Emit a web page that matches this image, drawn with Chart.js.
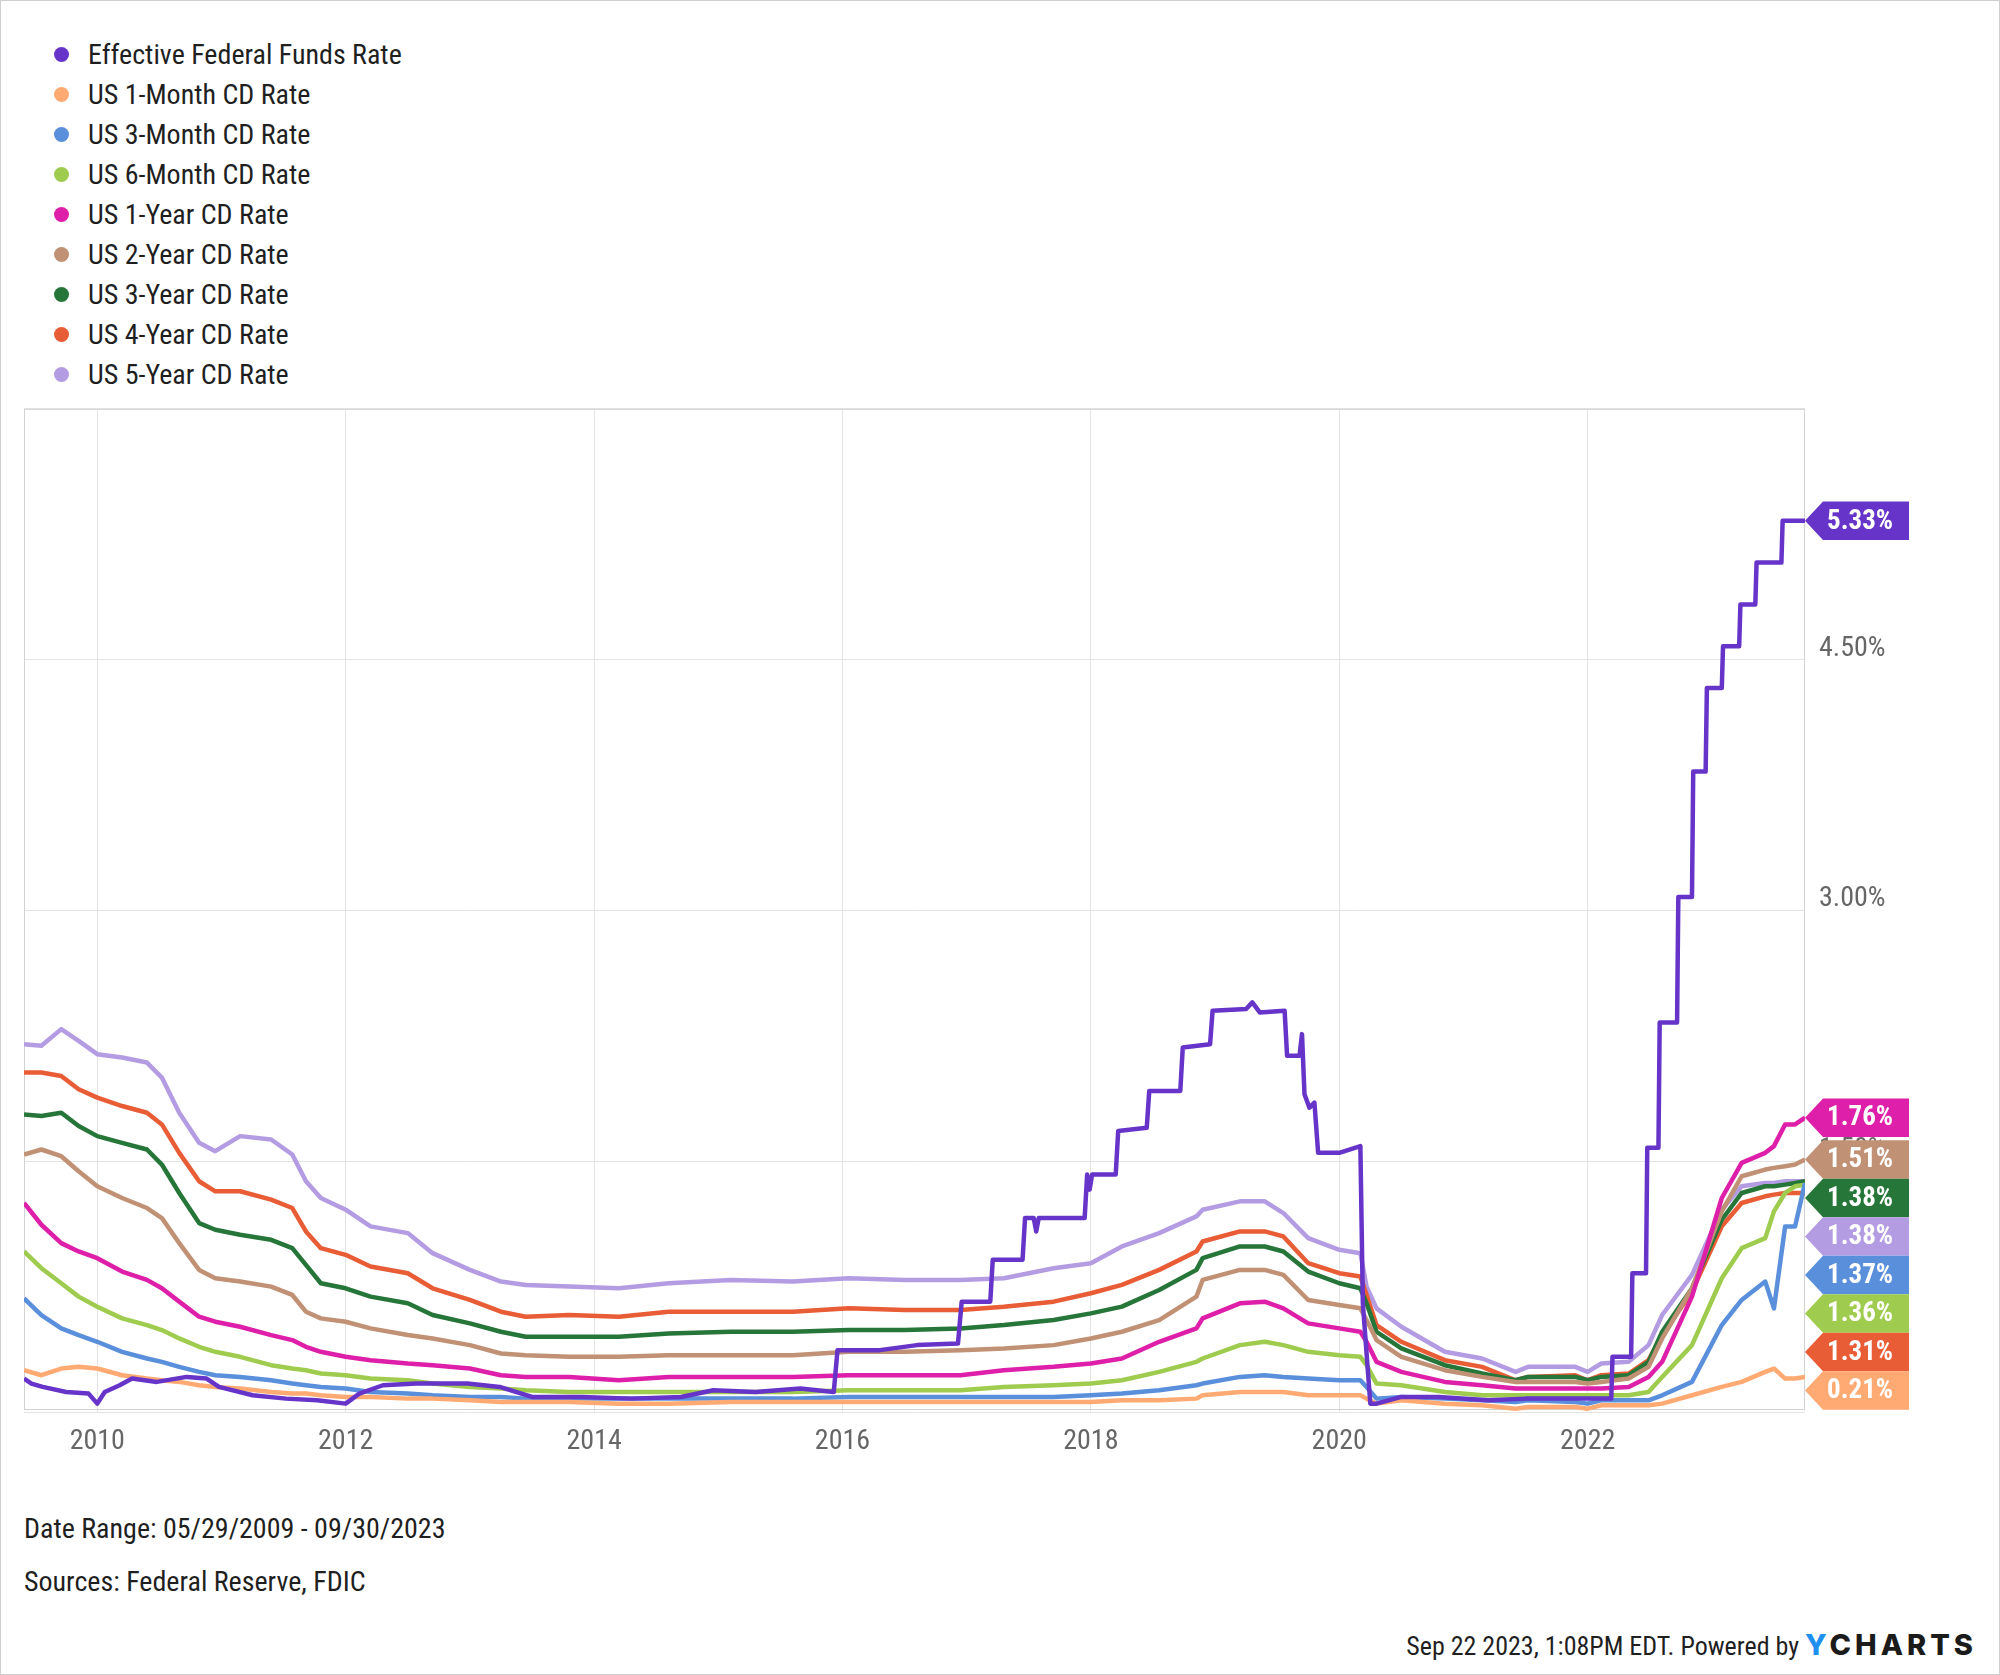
<!DOCTYPE html>
<html>
<head>
<meta charset="utf-8">
<script src="https://cdn.jsdelivr.net/npm/chart.js@4.4.1/dist/chart.umd.min.js"></script>
<style>
  body { margin: 0; background: #fff; }
  #wrap {
    position: relative; width: 2000px; height: 1675px; background: #fff;
    outline: 1px solid #cfcfcf; outline-offset: -1px; overflow: hidden;
    font-family: "Roboto Condensed", "Liberation Sans Narrow", Roboto, sans-serif;
    color: #1f1f1f;
  }
  #legend { position: absolute; left: 0; top: 34px; }
  .item { height: 40px; display: flex; align-items: center; font-size: 28px; }
  .dot { width: 15px; height: 15px; border-radius: 50%; margin-left: 54px; margin-right: 19px; }
  #chart { position: absolute; left: 0; top: 378px; }
  .note { position: absolute; left: 24px; font-size: 28px; line-height: 30px; }
  #stamp { position: absolute; right: 23px; top: 1630px; font-size: 26px; line-height: 30px; white-space: nowrap; }
  #logo { font-family: Inter, Roboto, sans-serif; font-weight: 800; font-size: 29px; letter-spacing: 4px; color: #1b1b1b; }
  #logo span { color: #1e90f0; }
</style>
</head>
<body>
<div id="wrap">
  <div id="legend"></div>
  <canvas id="chart" width="2000" height="1100"></canvas>
  <div class="note" style="top:1514px">Date Range: 05/29/2009 - 09/30/2023</div>
  <div class="note" style="top:1567px">Sources: Federal Reserve, FDIC</div>
  <div id="stamp">Sep 22 2023, 1:08PM EDT. Powered by <span id="logo"><span>Y</span>CHARTS</span></div>
</div>
<script>
const seriesNames = ['Effective Federal Funds Rate', 'US 1-Month CD Rate', 'US 3-Month CD Rate', 'US 6-Month CD Rate',
    'US 1-Year CD Rate', 'US 2-Year CD Rate', 'US 3-Year CD Rate', 'US 4-Year CD Rate', 'US 5-Year CD Rate'];
const seriesColors = ['#6634c9', '#ffaa72', '#5a8fdb', '#9fcb4f', '#de1fa9', '#c09174', '#267539', '#e85c36', '#b49ce3'];

const xMin = 2009.41;
const xMax = 2023.75;
const yearTicks = [2010, 2012, 2014, 2016, 2018, 2020, 2022];
const rateTicks = [0, 1.5, 3, 4.5, 6];

// effective fed funds rate, [decimal year, %]
const effrPoints = [
    [2009.41, 0.20], [2009.47, 0.17], [2009.56, 0.15], [2009.75, 0.12], [2009.93, 0.11], [2010.0, 0.05],
    [2010.06, 0.12], [2010.18, 0.16], [2010.28, 0.20], [2010.48, 0.18], [2010.72, 0.21], [2010.88, 0.20],
    [2010.98, 0.15], [2011.25, 0.10], [2011.52, 0.08], [2011.77, 0.07], [2012.0, 0.05], [2012.11, 0.11],
    [2012.3, 0.16], [2012.57, 0.17], [2012.98, 0.17], [2013.24, 0.15], [2013.5, 0.09], [2013.9, 0.09],
    [2014.3, 0.08], [2014.7, 0.09], [2014.96, 0.13], [2015.3, 0.12], [2015.66, 0.14], [2015.93, 0.12],
    [2015.96, 0.37], [2016.3, 0.37], [2016.6, 0.40], [2016.93, 0.41], [2016.96, 0.66], [2017.19, 0.66],
    [2017.21, 0.91], [2017.45, 0.91], [2017.47, 1.16], [2017.54, 1.16], [2017.56, 1.08], [2017.58, 1.16],
    [2017.95, 1.16], [2017.97, 1.42], [2017.99, 1.33], [2018.01, 1.42], [2018.2, 1.42], [2018.22, 1.68],
    [2018.45, 1.70], [2018.47, 1.92], [2018.72, 1.92], [2018.74, 2.18], [2018.96, 2.20], [2018.98, 2.40],
    [2019.25, 2.41], [2019.3, 2.45], [2019.36, 2.39], [2019.56, 2.40], [2019.58, 2.13], [2019.68, 2.13],
    [2019.7, 2.26], [2019.72, 1.90], [2019.76, 1.82], [2019.8, 1.85], [2019.83, 1.55], [2020.0, 1.55],
    [2020.17, 1.59], [2020.19, 0.65], [2020.25, 0.05], [2020.3, 0.05], [2020.5, 0.09], [2020.8, 0.09],
    [2021.2, 0.07], [2021.5, 0.08], [2021.9, 0.08], [2022.19, 0.08], [2022.2, 0.33], [2022.35, 0.33],
    [2022.36, 0.83], [2022.47, 0.83], [2022.48, 1.58], [2022.57, 1.58], [2022.58, 2.33], [2022.72, 2.33],
    [2022.73, 3.08], [2022.84, 3.08], [2022.85, 3.83], [2022.95, 3.83], [2022.96, 4.33], [2023.08, 4.33],
    [2023.09, 4.58], [2023.22, 4.58], [2023.23, 4.83], [2023.35, 4.83], [2023.36, 5.08], [2023.56, 5.08],
    [2023.57, 5.33], [2023.75, 5.33]
];

// CD rates share one set of dates
const cdDates = [
    2009.41, 2009.55, 2009.71, 2009.85, 2010.0, 2010.2, 2010.4, 2010.52, 2010.66, 2010.82,
    2010.95, 2011.15, 2011.4, 2011.57, 2011.68, 2011.8, 2012.0, 2012.2, 2012.5, 2012.7,
    2013.0, 2013.25, 2013.45, 2013.8, 2014.2, 2014.6, 2015.1, 2015.6, 2016.05, 2016.5,
    2016.95, 2017.3, 2017.7, 2018.0, 2018.25, 2018.55, 2018.85, 2018.9, 2019.2, 2019.4,
    2019.55, 2019.75, 2020.0, 2020.17, 2020.22, 2020.3, 2020.5, 2020.85, 2021.15, 2021.42,
    2021.52, 2021.9, 2022.0, 2022.11, 2022.33, 2022.49, 2022.6, 2022.84, 2023.08, 2023.24,
    2023.43, 2023.5, 2023.59, 2023.67, 2023.75
];
const cd1m = [
    0.25, 0.22, 0.26, 0.27, 0.26, 0.22, 0.20, 0.19, 0.18, 0.16,
    0.15, 0.14, 0.12, 0.11, 0.11, 0.10, 0.09, 0.09, 0.08, 0.08,
    0.07, 0.06, 0.06, 0.06, 0.05, 0.05, 0.06, 0.06, 0.06, 0.06,
    0.06, 0.06, 0.06, 0.06, 0.07, 0.07, 0.08, 0.10, 0.12, 0.12,
    0.12, 0.10, 0.10, 0.10, 0.08, 0.05, 0.07, 0.05, 0.04, 0.02,
    0.03, 0.03, 0.02, 0.04, 0.04, 0.04, 0.05, 0.10, 0.15, 0.18,
    0.24, 0.26, 0.20, 0.20, 0.21
];
const cd3m = [
    0.68, 0.58, 0.50, 0.46, 0.42, 0.36, 0.32, 0.30, 0.27, 0.24,
    0.22, 0.21, 0.19, 0.17, 0.16, 0.15, 0.14, 0.12, 0.11, 0.10,
    0.09, 0.09, 0.08, 0.08, 0.08, 0.08, 0.08, 0.08, 0.09, 0.09,
    0.09, 0.09, 0.09, 0.10, 0.11, 0.13, 0.16, 0.17, 0.21, 0.22,
    0.21, 0.20, 0.19, 0.19, 0.15, 0.08, 0.09, 0.08, 0.07, 0.06,
    0.07, 0.06, 0.05, 0.07, 0.07, 0.07, 0.10, 0.18, 0.52, 0.67,
    0.78, 0.62, 1.11, 1.11, 1.37
];
const cd6m = [
    0.96, 0.86, 0.77, 0.69, 0.63, 0.56, 0.52, 0.49, 0.44, 0.39,
    0.36, 0.33, 0.28, 0.26, 0.25, 0.23, 0.22, 0.20, 0.19, 0.17,
    0.15, 0.14, 0.13, 0.12, 0.12, 0.12, 0.12, 0.12, 0.13, 0.13,
    0.13, 0.15, 0.16, 0.17, 0.19, 0.24, 0.30, 0.32, 0.40, 0.42,
    0.40, 0.36, 0.34, 0.33, 0.28, 0.17, 0.16, 0.12, 0.10, 0.10,
    0.10, 0.10, 0.10, 0.10, 0.10, 0.12, 0.21, 0.40, 0.80, 0.98,
    1.04, 1.20, 1.31, 1.35, 1.36
];
const cd1y = [
    1.25, 1.12, 1.01, 0.96, 0.92, 0.84, 0.79, 0.74, 0.66, 0.57,
    0.54, 0.51, 0.46, 0.43, 0.39, 0.36, 0.33, 0.31, 0.29, 0.28,
    0.26, 0.22, 0.21, 0.21, 0.19, 0.21, 0.21, 0.21, 0.22, 0.22,
    0.22, 0.25, 0.27, 0.29, 0.32, 0.42, 0.50, 0.56, 0.65, 0.66,
    0.62, 0.53, 0.50, 0.48, 0.42, 0.30, 0.24, 0.18, 0.16, 0.14,
    0.14, 0.14, 0.14, 0.14, 0.15, 0.21, 0.30, 0.69, 1.28, 1.49,
    1.55, 1.59, 1.72, 1.72, 1.76
];
const cd2y = [
    1.54, 1.57, 1.53, 1.44, 1.35, 1.28, 1.22, 1.16, 1.01, 0.85,
    0.80, 0.78, 0.75, 0.70, 0.60, 0.56, 0.54, 0.50, 0.46, 0.44,
    0.40, 0.35, 0.34, 0.33, 0.33, 0.34, 0.34, 0.34, 0.36, 0.36,
    0.37, 0.38, 0.40, 0.44, 0.48, 0.55, 0.69, 0.79, 0.85, 0.85,
    0.82, 0.67, 0.64, 0.62, 0.55, 0.43, 0.33, 0.25, 0.21, 0.18,
    0.18, 0.18, 0.17, 0.18, 0.20, 0.27, 0.44, 0.74, 1.20, 1.41,
    1.45, 1.46, 1.47, 1.48, 1.51
];
const cd3y = [
    1.78, 1.77, 1.79, 1.71, 1.65, 1.61, 1.57, 1.48, 1.31, 1.13,
    1.09, 1.06, 1.03, 0.98, 0.88, 0.77, 0.74, 0.69, 0.65, 0.58,
    0.53, 0.48, 0.45, 0.45, 0.45, 0.47, 0.48, 0.48, 0.49, 0.49,
    0.50, 0.52, 0.55, 0.59, 0.63, 0.73, 0.85, 0.92, 0.99, 0.99,
    0.96, 0.84, 0.77, 0.74, 0.65, 0.48, 0.38, 0.28, 0.23, 0.19,
    0.21, 0.21, 0.19, 0.21, 0.22, 0.30, 0.48, 0.74, 1.15, 1.31,
    1.35, 1.35, 1.36, 1.37, 1.38
];
const cd4y = [
    2.03, 2.03, 2.01, 1.93, 1.88, 1.83, 1.79, 1.72, 1.55, 1.38,
    1.32, 1.32, 1.27, 1.22, 1.08, 0.98, 0.94, 0.87, 0.83, 0.74,
    0.67, 0.60, 0.57, 0.58, 0.57, 0.60, 0.60, 0.60, 0.62, 0.61,
    0.61, 0.63, 0.66, 0.71, 0.76, 0.85, 0.96, 1.02, 1.08, 1.08,
    1.05, 0.89, 0.83, 0.81, 0.70, 0.52, 0.42, 0.31, 0.27, 0.19,
    0.21, 0.22, 0.19, 0.22, 0.23, 0.31, 0.46, 0.72, 1.11, 1.25,
    1.29, 1.30, 1.31, 1.31, 1.31
];
const cd5y = [
    2.20, 2.19, 2.29, 2.22, 2.14, 2.12, 2.09, 2.00, 1.79, 1.61,
    1.56, 1.65, 1.63, 1.54, 1.38, 1.28, 1.21, 1.11, 1.07, 0.95,
    0.85, 0.78, 0.76, 0.75, 0.74, 0.77, 0.79, 0.78, 0.80, 0.79,
    0.79, 0.80, 0.86, 0.89, 0.99, 1.07, 1.17, 1.21, 1.26, 1.26,
    1.19, 1.04, 0.97, 0.95, 0.75, 0.62, 0.51, 0.36, 0.32, 0.24,
    0.27, 0.27, 0.24, 0.29, 0.30, 0.40, 0.58, 0.82, 1.21, 1.35,
    1.37, 1.37, 1.38, 1.38, 1.38
];

const fontFamily = '"Roboto Condensed", "Liberation Sans Narrow", Roboto, sans-serif';

document.addEventListener('DOMContentLoaded', function () {
    const legend = document.getElementById('legend');
    seriesNames.forEach((name, i) => {
        const row = document.createElement('div');
        row.className = 'item';
        row.innerHTML = `<span class="dot" style="background:${seriesColors[i]}"></span><span>${name}</span>`;
        legend.appendChild(row);
    });

    const cdSeries = [cd1m, cd3m, cd6m, cd1y, cd2y, cd3y, cd4y, cd5y];
    const allSeries = [effrPoints.map(p => ({ x: p[0], y: p[1] }))]
        .concat(cdSeries.map(vals => vals.map((v, j) => ({ x: cdDates[j], y: v }))));

    const datasets = allSeries.map((pts, i) => ({
        label: seriesNames[i],
        data: pts,
        borderColor: seriesColors[i],
        backgroundColor: seriesColors[i],
        borderWidth: 4.5,
        pointRadius: 0,
        tension: 0,
        fill: false,
        borderJoinStyle: 'round'
    }));

    const plotFrame = {
        id: 'plotFrame',
        beforeDatasetsDraw(chart) {
            const { ctx, chartArea } = chart;
            ctx.save();
            ctx.strokeStyle = '#d2d2d2';
            ctx.lineWidth = 1;
            ctx.strokeRect(chartArea.left + 0.5, chartArea.top + 0.5,
                chartArea.right - chartArea.left - 1, chartArea.bottom - chartArea.top - 3);
            ctx.restore();
        }
    };

    // value tags on the right, pushed down so they don't overlap
    const lastValueTags = {
        id: 'lastValueTags',
        afterDraw(chart) {
            const { ctx, chartArea } = chart;
            const yScale = chart.scales.y;
            const h = 38.5;
            const x0 = chartArea.right;
            let items = chart.data.datasets.map((ds, i) => ({ v: ds.data[ds.data.length - 1].y, color: ds.borderColor, i }));
            items.sort((a, b) => b.v - a.v);
            let prev = -Infinity;
            ctx.save();
            items.forEach(it => {
                let py = Math.max(yScale.getPixelForValue(it.v), prev + h);
                prev = py;
                ctx.fillStyle = it.color;
                ctx.beginPath();
                ctx.moveTo(x0, py);
                ctx.lineTo(x0 + 18, py - h / 2);
                ctx.lineTo(x0 + 104, py - h / 2);
                ctx.lineTo(x0 + 104, py + h / 2);
                ctx.lineTo(x0 + 18, py + h / 2);
                ctx.closePath();
                ctx.fill();
                ctx.fillStyle = '#fff';
                ctx.font = 'bold 27px ' + fontFamily;
                ctx.textAlign = 'left';
                ctx.textBaseline = 'middle';
                ctx.fillText(it.v.toFixed(2) + '%', x0 + 22, py + 1);
            });
            ctx.restore();
        }
    };

    const ctx = document.getElementById('chart').getContext('2d');
    new Chart(ctx, {
        type: 'line',
        data: { datasets: datasets },
        plugins: [plotFrame, lastValueTags],
        options: {
            responsive: false,
            animation: false,
            devicePixelRatio: 1,
            layout: { padding: { left: 24, top: 26, right: 0, bottom: 0 } },
            plugins: { legend: { display: false }, tooltip: { enabled: false } },
            scales: {
                x: {
                    type: 'linear',
                    min: xMin,
                    max: xMax,
                    afterBuildTicks: scale => { scale.ticks = yearTicks.map(v => ({ value: v })); },
                    afterFit: scale => { scale.height = 66; },
                    grid: { color: '#e4e4e4', lineWidth: 1, drawTicks: false },
                    border: { display: false },
                    ticks: {
                        padding: 13,
                        color: '#666',
                        font: { family: fontFamily, size: 28 },
                        callback: v => String(v)
                    }
                },
                y: {
                    position: 'right',
                    min: 0,
                    max: 6,
                    afterBuildTicks: scale => { scale.ticks = rateTicks.map(v => ({ value: v })); },
                    afterFit: scale => { scale.width = 195; },
                    grid: { color: '#e4e4e4', lineWidth: 1, drawTicks: false },
                    border: { display: false },
                    ticks: {
                        padding: 14,
                        labelOffset: -11,
                        color: '#666',
                        font: { family: fontFamily, size: 28 },
                        callback: v => (v >= 6 ? '' : v.toFixed(2) + '%')
                    }
                }
            }
        }
    });
});
</script>
</body>
</html>
